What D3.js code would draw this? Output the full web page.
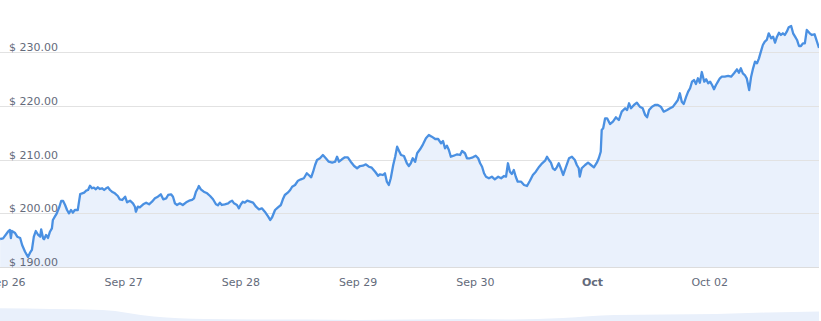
<!DOCTYPE html>
<html>
<head>
<meta charset="utf-8">
<script src="https://cdn.jsdelivr.net/npm/d3@7"></script>
<style>
  body { margin: 0; background: #fff; }
  svg { display: block; font-family: "DejaVu Sans", Verdana, sans-serif; }
  .lbl { font-size: 11px; fill: #646b7b; }
</style>
</head>
<body>
<div id="chart"></div>
<script>
// hours since Sep 26 00:00 (UTC) and the price at that moment
var hours = [
  -1.2,-0.6,0.4,0.8,1.0,1.2,1.8,2.3,2.9,3.3,
  3.9,4.5,4.9,5.3,5.7,6.1,6.6,7.0,7.2,7.6,
  7.8,8.2,8.6,9.0,9.4,9.6,10.0,10.4,10.9,11.3,
  11.7,12.1,12.5,12.9,13.3,13.7,14.1,14.7,14.9,15.2,
  15.6,16.0,16.4,16.8,17.2,17.6,18.0,18.4,18.8,19.2,
  19.7,20.1,20.5,20.9,21.3,21.7,22.3,22.9,23.3,23.8,
  24.4,24.8,25.4,26.0,26.4,26.6,27.0,27.4,28.1,28.7,
  29.3,29.9,30.5,31.1,31.7,32.2,32.8,33.2,33.8,34.2,
  34.6,35.0,35.6,36.2,36.9,37.5,38.1,38.5,38.9,39.3,
  39.5,39.9,40.5,41.2,41.8,42.4,43.0,43.4,43.8,44.2,
  44.8,45.5,45.9,46.3,46.7,47.3,47.7,48.1,48.5,48.9,
  49.4,50.0,50.6,51.2,51.8,52.4,53.0,53.7,54.1,54.5,
  55.1,55.7,56.3,56.7,57.1,57.7,58.2,58.6,59.2,59.8,
  60.4,61.0,61.6,62.0,62.5,62.9,63.3,63.7,64.3,64.9,
  65.5,66.1,66.8,67.4,67.8,68.2,68.8,69.4,70.0,70.6,
  71.3,71.9,72.5,73.1,73.7,74.3,74.9,75.6,76.2,76.6,
  77.2,77.6,78.0,78.4,78.8,79.3,79.7,80.1,80.5,80.9,
  81.5,82.1,82.5,82.9,83.3,83.8,84.2,84.8,85.4,86.0,
  86.6,87.2,87.9,88.5,89.1,89.5,89.9,90.3,90.7,91.1,
  91.7,92.4,93.0,93.4,94.0,94.4,95.0,95.6,96.2,96.7,
  97.1,97.5,97.9,98.3,98.9,99.5,100.1,100.8,101.4,102.0,
  102.4,102.8,103.2,103.6,104.0,104.4,104.8,105.5,106.1,106.7,
  107.3,107.9,108.5,109.2,109.8,110.4,110.8,111.2,111.6,112.0,
  112.4,112.8,113.2,113.7,114.1,114.7,115.3,115.9,116.5,116.9,
  117.3,117.5,117.9,118.6,119.2,119.8,120.4,121.0,121.4,121.8,
  122.0,122.3,122.7,123.1,123.7,124.3,124.9,125.5,126.1,126.8,
  127.2,127.6,128.0,128.6,129.2,129.8,130.4,130.9,131.3,131.7,
  132.3,132.9,133.5,134.1,134.7,135.4,136.0,136.6,137.2,137.6,
  138.0,138.4,138.8,139.3,139.7,140.1,140.5,140.9,141.3,141.7,
  142.1,142.5,143.0,143.4,143.8,144.2,144.6,145.0,145.4,145.8,
  146.2,146.6,147.2,147.9,148.5,149.1,149.7,150.1,150.5,150.9,
  151.3,151.7,152.2,152.6,153.0,153.4,153.8,154.2,154.6,155.0,
  155.4,155.8,156.2,156.7,157.1,157.5,157.9,158.3,158.7,159.1,
  159.5,159.9,160.3,160.8,161.2,161.6,162.0,162.4,162.8,163.2,
  163.6,164.0,164.6,165.0,165.6,166.5
];

var prices = [
  195.30,195.43,196.66,196.98,195.49,196.79,196.47,195.73,195.49,194.19,
  192.94,191.95,192.70,193.26,195.73,196.79,196.05,195.73,197.11,195.43,
  195.25,196.05,195.49,196.66,197.29,198.84,199.45,200.08,201.20,202.37,
  202.37,201.63,200.70,200.08,200.70,200.20,200.70,200.70,201.94,203.67,
  203.80,203.92,204.29,204.42,205.22,204.74,204.85,204.55,204.92,204.61,
  204.74,204.42,204.74,204.92,204.42,204.10,203.80,203.30,202.69,202.56,
  203.17,202.13,202.43,201.94,201.31,200.38,201.31,201.20,201.76,202.06,
  201.76,202.24,202.87,203.17,203.62,202.69,202.87,203.49,203.62,203.17,
  201.94,201.63,201.94,201.63,202.13,202.43,202.56,202.87,204.10,204.74,
  205.16,204.55,204.10,203.80,203.30,202.69,201.76,201.57,202.06,201.63,
  201.76,201.94,202.24,202.43,201.94,201.63,201.01,201.76,202.24,202.06,
  202.43,202.24,202.06,201.31,200.83,201.01,200.38,199.45,198.84,199.34,
  200.70,201.20,201.63,202.69,203.49,203.92,204.42,205.03,205.35,206.15,
  206.41,206.60,207.53,207.21,206.78,207.82,209.07,210.00,210.32,210.93,
  210.32,209.68,209.50,209.68,210.61,209.68,210.13,210.50,210.50,209.68,
  208.88,208.46,208.88,208.94,209.20,208.75,208.57,207.82,207.08,207.34,
  207.21,207.53,205.96,205.35,206.60,209.07,210.61,212.47,211.67,210.93,
  210.74,209.39,208.88,209.39,210.32,209.68,211.25,211.99,212.92,214.04,
  214.65,214.34,213.91,213.91,213.11,213.53,212.18,212.66,211.86,210.61,
  210.80,211.06,210.93,211.67,211.25,210.32,210.32,210.50,210.80,210.32,
  209.39,208.75,207.53,206.89,206.60,206.89,206.41,206.89,206.60,207.02,
  206.89,209.39,207.82,207.40,208.14,206.89,205.96,205.96,205.35,205.16,
  206.15,207.21,207.82,208.75,209.39,209.87,210.61,210.00,209.50,208.46,
  208.14,208.64,209.39,208.27,207.21,208.75,210.32,210.61,210.00,209.07,
  208.46,206.89,208.46,209.07,209.50,209.07,208.64,209.50,210.32,211.54,
  215.58,215.90,217.76,217.76,216.70,217.13,217.94,217.44,218.99,219.62,
  219.30,220.55,219.62,220.23,220.66,219.92,219.62,218.37,217.94,219.30,
  219.92,220.23,220.23,219.92,218.99,219.30,219.62,219.92,220.66,221.16,
  222.41,220.85,220.42,221.78,222.71,223.34,224.57,224.88,224.14,225.20,
  224.38,226.37,224.57,225.01,224.27,224.57,223.95,223.15,223.95,224.57,
  225.20,225.50,225.50,225.63,225.50,226.13,226.87,226.24,227.06,226.13,
  225.81,225.20,223.02,225.50,227.06,228.29,227.99,228.92,230.15,231.40,
  232.01,232.33,233.57,232.64,232.94,231.82,232.94,233.68,233.26,233.57,
  233.26,233.87,234.69,234.93,233.57,232.94,232.33,231.21,231.21,231.71,
  231.71,234.19,233.57,233.26,233.39,230.84
];

var yTicks = [190, 200, 210, 220, 230];
var tickDays = ["2023-09-26", "2023-09-27", "2023-09-28", "2023-09-29", "2023-09-30", "2023-10-01", "2023-10-02"];
var tickLabels = ["Sep 26", "Sep 27", "Sep 28", "Sep 29", "Sep 30", "Oct", "Oct 02"];

// small overview series in the navigator strip at the bottom
var navValues = [12.7, 12, 11, 4.5, 2, 1.5, 1.5, 1, 1.5, 2, 1.5, 3, 6, 6.5, 7, 8.5, 9.5];

var width = 821,
    height = 321;

var base = Date.UTC(2023, 8, 26);
var hr = 3600 * 1000;

var data = hours.map(function(h, i) {
  return { date: new Date(base + h * hr), price: prices[i] };
});

var x = d3.scaleUtc()
    .domain([new Date(base - 1.23 * hr), new Date(base + 166.5 * hr)])
    .range([0, 819]);

var y = d3.scaleLinear()
    .domain([190, 230])
    .range([267.5, 52.5]);

var svg = d3.select("#chart").append("svg")
    .attr("width", width)
    .attr("height", height);

svg.append("defs").append("clipPath")
    .attr("id", "plot")
  .append("rect")
    .attr("x", 0).attr("y", 0)
    .attr("width", 819).attr("height", 267.5);

// area under the line
var area = d3.area()
    .x(function(d) { return x(d.date); })
    .y0(y(190))
    .y1(function(d) { return y(d.price); });

svg.append("path")
    .datum(data)
    .attr("clip-path", "url(#plot)")
    .attr("fill", "#eaf1fc")
    .attr("d", area);

// gridlines
svg.selectAll(".grid")
    .data(yTicks)
    .enter().append("line")
    .attr("class", "grid")
    .attr("x1", 0)
    .attr("x2", 819)
    .attr("y1", function(d) { return Math.round(y(d) - 0.5) + 0.5; })
    .attr("y2", function(d) { return Math.round(y(d) - 0.5) + 0.5; })
    .style("stroke", function(d) { return d == 190 ? "#dcdcdc" : "#e2e2e2"; })
    .style("stroke-width", "1px");

var line = d3.line()
    .x(function(d) { return x(d.date); })
    .y(function(d) { return y(d.price); });

svg.append("path")
    .datum(data)
    .attr("clip-path", "url(#plot)")
    .attr("fill", "none")
    .style("stroke", "#4a90e2")
    .style("stroke-width", "2.3px")
    .style("stroke-linejoin", "round")
    .attr("d", line);

// y labels sit above their gridline, inside the plot
svg.selectAll(".ylbl")
    .data(yTicks)
    .enter().append("text")
    .attr("class", "lbl ylbl")
    .attr("x", 9)
    .attr("y", function(d) { return Math.round(y(d) - 0.5) - 1.5; })
    .text(function(d) { return "$ " + d3.format(".2f")(d); });

// x axis
var xAxis = d3.axisBottom(x)
    .tickValues(tickDays.map(function(s) { return new Date(s + "T00:00:00Z"); }))
    .tickFormat(function(d, i) { return tickLabels[i]; })
    .tickSize(0)
    .tickPadding(11);

var gx = svg.append("g")
    .attr("transform", "translate(0,267.5)")
    .call(xAxis);
gx.select(".domain").remove();
gx.selectAll("text")
    .attr("class", "lbl")
    .style("font-family", "DejaVu Sans, Verdana, sans-serif")
    .style("font-size", "11px")
    .style("font-weight", function(d, i) { return tickLabels[i] == "Oct" ? "bold" : "normal"; });

// navigator overview
var xn = d3.scaleLinear()
    .domain([0, navValues.length - 1])
    .range([0, 819]);
var yn = d3.scaleLinear()
    .domain([0, 16])
    .range([321, 305]);

svg.append("path")
    .datum(navValues)
    .attr("fill", "#e9f0fb")
    .attr("d", d3.area()
      .curve(d3.curveMonotoneX)
      .x(function(d, i) { return xn(i); })
      .y0(321)
      .y1(function(d) { return yn(d); }));
</script>
</body>
</html>
